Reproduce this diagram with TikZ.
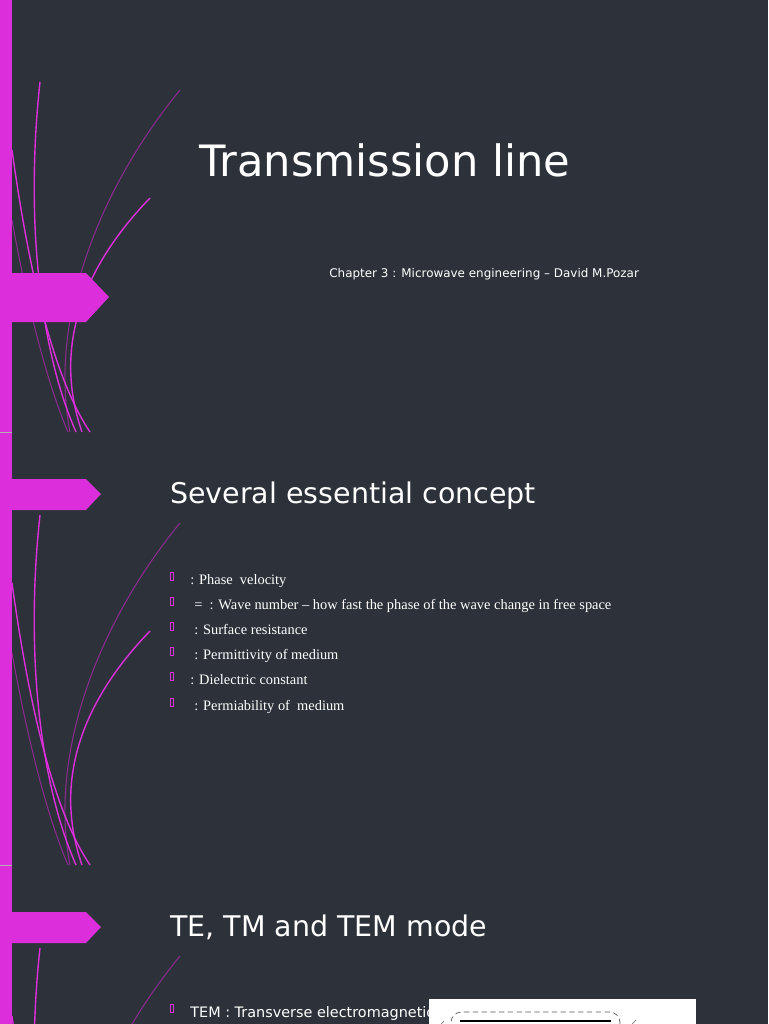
\documentclass[tikz,border=0pt]{standalone}
\usepackage{fontspec}
\setmainfont{Liberation Serif}
\newfontfamily\slidefont{DejaVu Sans}
\definecolor{slidebg}{HTML}{2D323A}
\definecolor{accent}{HTML}{DD2EDB}
\definecolor{accentdark}{HTML}{8A2A8E}
\tikzset{
  title/.style={anchor=base west,inner sep=0pt,text=white,font=\slidefont},
  item/.style={anchor=base west,inner sep=0pt,text=white,font=\fontsize{8.2}{10}\selectfont},
  bulletbox/.style={draw=accent,line width=0.4pt},
  swoosh/.style={line width=0.8pt,accent},
  swooshdark/.style={line width=0.6pt,accentdark}
}
\begin{document}
\begin{tikzpicture}[x=0.02cm,y=-0.02cm]
\useasboundingbox (0,0) rectangle (768,1024);
\fill[slidebg] (0,0) rectangle (768,1024);
\clip (0,0) rectangle (768,1024);

% decorations of each slide
\foreach \off in {0,433,866}{
  \begin{scope}[yshift=-\off*0.02cm]
    \draw[swooshdark] (180,90) .. controls (90,200) and (50,330) .. (70,432);
    \draw[swooshdark] (12,220) .. controls (30,320) and (50,390) .. (68,432);
    \draw[swoosh] (40,82) .. controls (25,220) and (40,350) .. (76,432);
    \draw[swoosh] (12,150) .. controls (30,280) and (55,380) .. (90,432);
    \draw[swoosh] (150,198) .. controls (90,260) and (50,340) .. (82,432);
    \fill[accent] (0,0) rectangle (12,432);
  \end{scope}
}
\draw[gray!60] (0,432) -- (12,432) (0,865) -- (12,865);

% arrow tabs
\fill[accent] (12,273) -- (86,273) -- (109,297) -- (86,322) -- (12,322) -- cycle;
\fill[accent] (12,479) -- (86,479) -- (101,494) -- (86,510) -- (12,510) -- cycle;
\fill[accent] (12,912) -- (86,912) -- (101,927) -- (86,943) -- (12,943) -- cycle;

% slide 1
\node[title,font=\slidefont\fontsize{24.6}{30}\selectfont] (maintitle) at (199,176) {Transmission line};
\node[title,font=\slidefont\fontsize{6.8}{8}\selectfont] (subtitle) at (329,277) {Chapter 3 : Microwave engineering – David M.Pozar};

% slide 2
\node[title,font=\slidefont\fontsize{16.2}{19}\selectfont] (concepttitle) at (170,503) {Several essential concept};
\foreach \y/\x/\t [count=\i] in {
  584/190/{: Phase\ \ velocity},
  609/194/{=\ \ : Wave number -- how fast the phase of the wave change in free space},
  634/194/{: Surface resistance},
  659/194/{: Permittivity of medium},
  684/190/{: Dielectric constant},
  710/194/{: Permiability of\ \ medium}}{
  \draw[bulletbox] (170,\y-12) rectangle (173,\y-4);
  \node[item] (item\i) at (\x,\y) {\t};
}

% slide 3
\node[title,font=\slidefont\fontsize{16.2}{19}\selectfont] (modetitle) at (170,936) {TE, TM and TEM mode};
\draw[bulletbox] (170,1004) rectangle (173,1012);
\node[title,font=\slidefont\fontsize{8.2}{10}\selectfont] (temitem) at (190,1017) {TEM : Transverse electromagnetic};
\fill[white] (429,999) rectangle (696,1030);
\draw[densely dashed,gray!70!black,rounded corners=6pt] (451,1030) -- (451,1012) -- (620,1012) -- (620,1030);
\draw[line width=1.2pt] (460,1021) -- (611,1021);
\draw[gray] (441,1024) -- (444,1021) (632,1024) -- (636,1020);
\end{tikzpicture}
\end{document}
